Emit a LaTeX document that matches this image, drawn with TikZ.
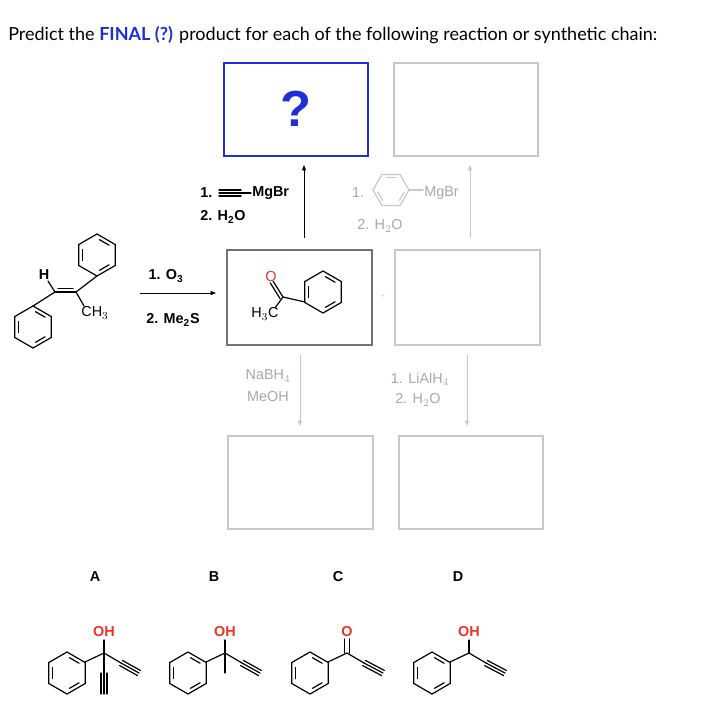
\documentclass[tikz,border=0pt]{standalone}
\usepackage{fontspec}
\setmainfont{Liberation Sans}
\newfontfamily\latofont{Lato}
\usetikzlibrary{calc,arrows.meta}
\definecolor{qblue}{HTML}{1F2FD6}
\definecolor{lgray}{HTML}{C8C8C8}
\definecolor{tgray}{HTML}{A8A8A8}
\definecolor{ored}{HTML}{E8352B}
\tikzset{bond/.style={line width=0.9pt,line cap=round},
 lbl/.style={inner sep=0pt,font=\fontsize{10.8}{12}\selectfont\bfseries},
 glbl/.style={inner sep=0pt,font=\fontsize{10.8}{12}\selectfont,text=tgray},
 box/.style={draw=lgray,line width=0.8pt},
 arr/.style={-{Triangle[length=4pt,width=3pt]},line width=0.6pt}}
\newcommand\benz[4][21]{%
 \draw[bond,#4] ($(#2)+(30+#3:#1)$) \foreach \k in {1,...,5}{ -- ($(#2)+(30+#3+\k*60:#1)$)} -- cycle;
 \foreach \k in {0,2,4}{\draw[bond,#4] ($(#2)+(30+#3+\k*60+9:#1*0.74)$) -- ($(#2)+(30+#3+\k*60+51:#1*0.74)$);}}
\newcommand\tb[2]{\draw[bond] (#1)--(#2);
 \draw[bond] ($(#1)!2.2pt!90:(#2)$) -- ($(#2)!2.2pt!-90:(#1)$);
 \draw[bond] ($(#1)!2.2pt!-90:(#2)$) -- ($(#2)!2.2pt!90:(#1)$);}
\begin{document}
\begin{tikzpicture}[x=0.75pt,y=-0.75pt]
\useasboundingbox (0,0) rectangle (702,728);
\fill[white] (0,0) rectangle (702,728);
\node[anchor=west,inner sep=0pt,font=\latofont\fontsize{13.5}{15}\selectfont] (title) at (8,35) {Predict the \textcolor{qblue}{\bfseries FINAL (?)} product for each of the following reaction or synthetic chain:};
% boxes
\draw[draw=qblue,line width=0.8pt] (224,63) rectangle (368,156);
\node[text=qblue,font=\fontsize{38}{38}\selectfont\bfseries] (q) at (296,109) {?};
\draw[box] (394,63) rectangle (538,156);
\draw[draw=gray!90!black,line width=0.9pt] (227,250) rectangle (372,345);
\draw[box] (395,250) rectangle (540,345);
\draw[box] (228,436) rectangle (373,529);
\draw[box] (399,436) rectangle (543,529);
% arrows
\coordinate (a1s) at (304,238); \coordinate (a1e) at (304,165);
\draw[arr] (a1s)--(a1e);
\coordinate (a2s) at (470,238); \coordinate (a2e) at (470,165);
\draw[arr,lgray] (a2s)--(a2e);
\coordinate (a3s) at (300,355); \coordinate (a3e) at (300,426);
\draw[arr,lgray] (a3s)--(a3e);
\coordinate (a4s) at (467,355); \coordinate (a4e) at (467,426);
\draw[arr,lgray] (a4s)--(a4e);
\coordinate (a5s) at (140,293); \coordinate (a5e) at (216,293);
\draw[arr] (a5s)--(a5e);
% reagents
\node[lbl] (o3) at (166,276) {1. O$_\mathbf{3}$};
\node[lbl] (me2s) at (173,320) {2. Me$_\mathbf{2}$S};
\node[lbl,anchor=west] (r1) at (200,193) {1.};
\coordinate (y1) at (219,193); \coordinate (y2) at (241,193);
\tb{y1}{y2}
\draw[bond] (y2)--(251,193);
\node[lbl,anchor=west] (mg1) at (252,193) {MgBr};
\node[lbl,anchor=west] (h2o1) at (200,217) {2. H$_\mathbf{2}$O};
\node[glbl] (g1) at (358,193) {1.};
\benz[18]{391,190}{-30}{lgray}
\draw[bond,lgray] (409,190)--(423,190);
\node[glbl,anchor=west] (mg2) at (424,193) {MgBr};
\node[glbl] (h2o2) at (380,226) {2. H$_2$O};
\node[text=lgray,font=\tiny] (plus) at (383,297) {+};
\node[glbl] (nabh) at (268,376) {NaBH$_4$};
\node[glbl] (meoh) at (268,397) {MeOH};
\node[glbl] (lialh) at (420,379) {1. LiAlH$_4$};
\node[glbl] (h2o3) at (418,400) {2. H$_2$O};
% letters
\node[lbl] (A) at (95,577) {A};
\node[lbl] (B) at (214,577) {B};
\node[lbl] (C) at (338,577) {C};
\node[lbl] (D) at (458,577) {D};
% starting alkene
\coordinate (c1) at (55,292); \coordinate (c2) at (76,292);
\draw[bond] (c1)--(c2); \draw[bond] ($(c1)+(3,-3.5)$)--($(c2)+(-3,-3.5)$);
\draw[bond] (c1)--(48,281); \node[lbl] (H) at (44,275) {H};
\benz{97,255}{0}{}
\draw[bond] (c2)--(97,276);
\benz{33,327}{0}{}
\draw[bond] (c1)--(33,306);
\draw[bond] (c2)--(84,306);
\node[font=\fontsize{10.8}{12}\selectfont,inner sep=0pt] (ch3) at (95,313) {CH$_3$};
% acetophenone
\coordinate (k) at (283,297); \coordinate (ko) at (273,281);
\draw[bond] (k)--(ko); \draw[bond] ($(k)!2.5pt!90:(ko)$)--($(ko)!2.5pt!-90:(k)$);
\node[text=ored,font=\fontsize{10.8}{12}\selectfont] (O) at (271,277) {O};
\draw[bond] (k)--(275,308);
\node[font=\fontsize{10.8}{12}\selectfont] (h3c) at (265,314) {H$_3$C};
\benz{323,292}{0}{}
\draw[bond] (k)--(305,302);
% answer A
\benz{67,673}{0}{}
\coordinate (ca) at (104,653);
\draw[bond] (85,662)--(ca); \draw[bond] (ca)--(104,640);
\node[text=ored,font=\fontsize{10.8}{12}\selectfont\bfseries] (ohA) at (104,632) {OH};
\draw[bond] (ca)--(121,663); \coordinate (aa1) at (121,663); \coordinate (aa2) at (139,673); \tb{aa1}{aa2}
\draw[bond] (ca)--(104,673); \coordinate (ab1) at (104,673); \coordinate (ab2) at (104,694); \tb{ab1}{ab2}
% B
\benz{188,673}{0}{}
\coordinate (cb) at (225,653);
\draw[bond] (206,662)--(cb); \draw[bond] (cb)--(225,640);
\node[text=ored,font=\fontsize{10.8}{12}\selectfont\bfseries] (ohB) at (225,632) {OH};
\draw[bond] (cb)--(225,673);
\draw[bond] (cb)--(242,663); \coordinate (bb1) at (242,663); \coordinate (bb2) at (260,673); \tb{bb1}{bb2}
% C
\benz{310,673}{0}{}
\coordinate (cc) at (347,653); \coordinate (cco) at (347,639);
\draw[bond] (328,662)--(cc);
\draw[bond] ($(cc)!1.6pt!90:(cco)$)--($(cco)!1.6pt!-90:(cc)$);
\draw[bond] ($(cc)!1.6pt!-90:(cco)$)--($(cco)!1.6pt!90:(cc)$);
\node[text=ored,font=\fontsize{10.8}{12}\selectfont\bfseries] (oC) at (347,632) {O};
\draw[bond] (cc)--(364,663); \coordinate (cb1) at (364,663); \coordinate (cb2) at (383,673); \tb{cb1}{cb2}
% D
\benz{432,673}{0}{}
\coordinate (cd) at (469,653);
\draw[bond] (450,662)--(cd); \draw[bond] (cd)--(469,640);
\node[text=ored,font=\fontsize{10.8}{12}\selectfont\bfseries] (ohD) at (469,632) {OH};
\draw[bond] (cd)--(486,663); \coordinate (db1) at (486,663); \coordinate (db2) at (505,673); \tb{db1}{db2}
\end{tikzpicture}
\end{document}
